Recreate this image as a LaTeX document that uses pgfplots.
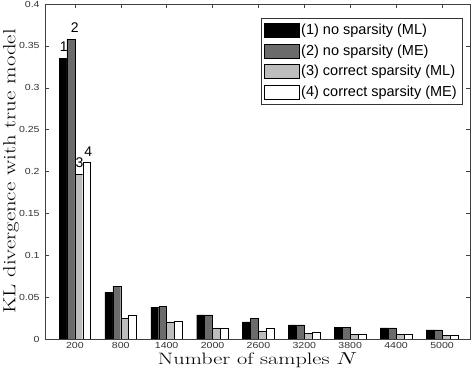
\documentclass[border=0pt]{standalone}
\usepackage{fontspec}
\usepackage{pgfplots}
\pgfplotsset{compat=1.18}
\newfontfamily\hv{Liberation Sans}
\definecolor{dgray}{gray}{0.42}
\definecolor{lgray}{gray}{0.74}
\begin{document}
\begin{tikzpicture}
\begin{axis}[
  name=ax,
  scale only axis,
  width=425pt, height=335pt,
  ybar=0pt, bar width=7.9pt,
  xmin=-0.65, xmax=8.61,
  ymin=0, ymax=0.4,
  xtick={0,1,2,3,4,5,6,7,8},
  xticklabels={200,800,1400,2000,2600,3200,3800,4400,5000},
  ytick={0,0.05,0.1,0.15,0.2,0.25,0.3,0.35,0.4},
  yticklabels={0,0.05,0.1,0.15,0.2,0.25,0.3,0.35,0.4},
  tick align=inside,
  major tick length=4pt,
  axis line style={black!75},
  every tick/.style={black!75},
  ticklabel style={font=\hv\fontsize{8.8}{10}\selectfont, text=black!80, xscale=1.2},
  xticklabel style={yshift=0pt},
  yticklabel style={xshift=-1pt},
  xlabel={Number of samples $N$},
  ylabel={KL divergence with true model},
  xlabel style={font=\fontsize{16.5}{18}\selectfont, at={(axis description cs:0.5,0)}, anchor=base, yshift=-26pt, xscale=1.35},
  ylabel style={font=\fontsize{17.5}{19}\selectfont, at={(axis description cs:0,0.5)}, anchor=center, yshift=34pt, xscale=1.3},
  legend style={at={(0.981,0.958)}, anchor=north east, draw=black!80,
    font=\hv\fontsize{14.5}{16}\selectfont, row sep=4.5pt, inner xsep=3pt, inner ysep=4pt,
    cells={anchor=west}},
  legend image code/.code={\draw[#1] (0pt,-7pt) rectangle (35pt,7pt);},
]
\addplot[draw=black, fill=black] coordinates {(0,0.335) (1,0.056) (2,0.038) (3,0.0288) (4,0.0204) (5,0.0168) (6,0.014) (7,0.0132) (8,0.0108)};
\addplot[draw=black, fill=dgray] coordinates {(0,0.358) (1,0.063) (2,0.0388) (3,0.0288) (4,0.025) (5,0.0168) (6,0.014) (7,0.0132) (8,0.0108)};
\addplot[draw=black, fill=lgray] coordinates {(0,0.197) (1,0.025) (2,0.0204) (3,0.0132) (4,0.0096) (5,0.0064) (6,0.0056) (7,0.0056) (8,0.0044)};
\addplot[draw=black, fill=white] coordinates {(0,0.211) (1,0.028) (2,0.0216) (3,0.0132) (4,0.013) (5,0.0076) (6,0.0056) (7,0.0056) (8,0.0044)};
\legend{(1) no sparsity (ML),(2) no sparsity (ME),(3) correct sparsity (ML),(4) correct sparsity (ME)}
\node[font=\hv\fontsize{14}{15}\selectfont, anchor=south, inner sep=1pt] at (axis cs:-0.24,0.342) {1};
\node[font=\hv\fontsize{14}{15}\selectfont, anchor=south, inner sep=1pt] at (axis cs:0.0,0.364) {2};
\node[font=\hv\fontsize{14}{15}\selectfont, anchor=south, inner sep=1pt] at (axis cs:0.1,0.203) {3};
\node[font=\hv\fontsize{14}{15}\selectfont, anchor=south, inner sep=1pt] at (axis cs:0.29,0.217) {4};
\end{axis}
\pgfresetboundingbox
\path ([xshift=-45pt,yshift=-36pt]ax.south west) rectangle ([xshift=4pt,yshift=4pt]ax.north east);
\end{tikzpicture}
\end{document}
